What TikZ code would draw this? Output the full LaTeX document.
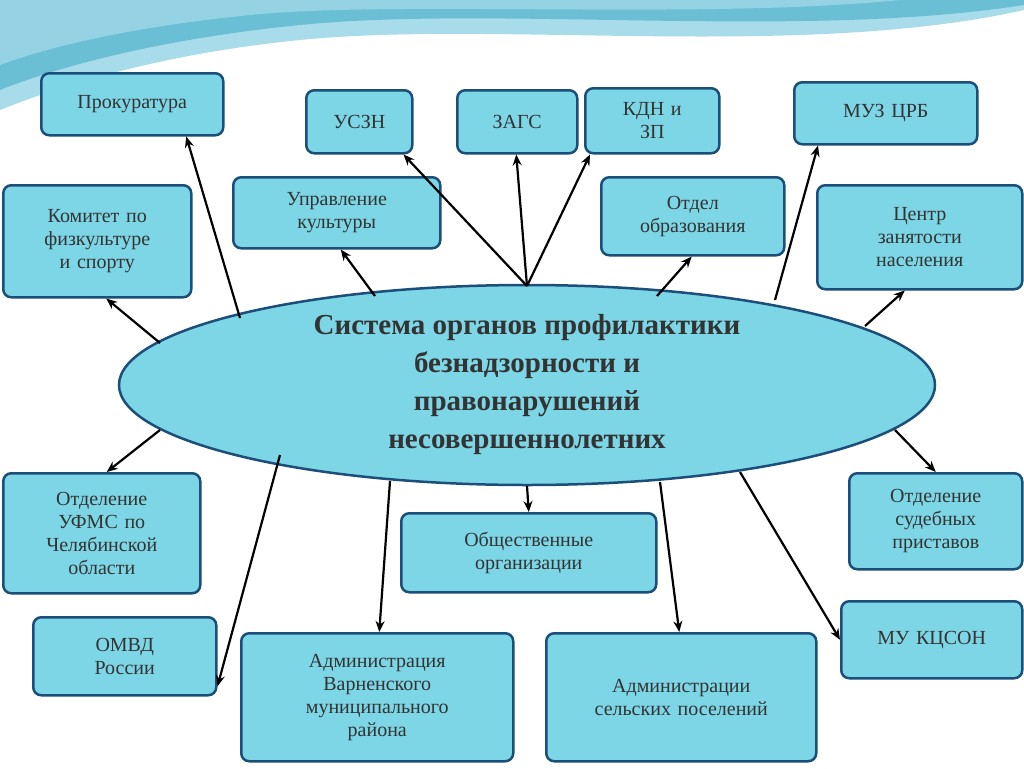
\documentclass[tikz,border=0pt]{standalone}
\usepackage{fontspec}
\setmainfont{Liberation Serif}
\usetikzlibrary{arrows.meta}
\definecolor{boxfill}{HTML}{7DD6E6}
\definecolor{boxline}{HTML}{1B4F7A}
\definecolor{txt}{HTML}{333333}
\definecolor{wave1}{HTML}{5BB8D0}
\definecolor{wave2}{HTML}{A8DCEB}
\begin{document}
\begin{tikzpicture}[x=1pt,y=-1pt,
  box/.style={draw=boxline,line width=2.5pt,fill=boxfill,rounded corners=8pt,anchor=north west,align=center,inner sep=0pt,text=txt,font=\fontsize{20}{23}\selectfont},
  arr/.style={-{Stealth[length=11pt,width=9pt]},line width=2.2pt,black}]
\useasboundingbox (0,0) rectangle (1024,768);
\fill[white] (0,0) rectangle (1024,768);
% waves
\fill[wave2] (0,0) -- (1024,0) -- (1024,10) .. controls (800,60) and (500,20) .. (300,40) .. controls (150,55) and (50,90) .. (0,110) -- cycle;
\fill[wave1,opacity=0.8] (0,0) -- (1024,0) -- (1024,5) .. controls (800,40) and (500,5) .. (300,25) .. controls (150,40) and (50,70) .. (0,90) -- cycle;
\fill[wave2,opacity=0.7] (0,0) -- (900,0) .. controls (700,20) and (400,0) .. (250,15) .. controls (120,28) and (40,50) .. (0,65) -- cycle;
% boxes
\newcommand\bx[6]{\node[box,minimum width=#4,minimum height=#5,text width=#4] (#1) at (#2,#3) {#6};}
\bx{prok}{40}{72}{182}{62}{Прокуратура\\[14pt]}
\bx{uszn}{305}{89}{106}{63}{УСЗН}
\bx{zags}{456}{89}{120}{63}{ЗАГС}
\bx{kdn}{584}{87}{134}{65}{КДН и\\ЗП}
\bx{muz}{793}{81}{183}{62}{МУЗ ЦРБ}
\bx{kom}{2}{184}{188}{112}{Комитет по\\физкультуре\\и спорту}
\bx{upr}{232}{176}{207}{71}{Управление\\культуры}
\bx{otd}{600}{176}{183}{78}{Отдел\\образования}
\bx{cz}{816}{184}{205}{104}{Центр\\занятости\\населения}
\bx{ufms}{2}{472}{197}{120}{Отделение\\УФМС по\\Челябинской\\области}
\bx{obsh}{400}{512}{255}{79}{Общественные\\организации}
\bx{sud}{848}{472}{173}{96}{Отделение\\судебных\\приставов}
\bx{omvd}{32}{616}{183}{78}{ОМВД\\России}
\bx{varn}{240}{632}{272}{128}{Администрация\\Варненского\\муниципального\\района}
\bx{sel}{545}{632}{270}{128}{Администрации\\сельских поселений}
\bx{kcson}{840}{600}{181}{77}{МУ КЦСОН\\[8pt]}
% ellipse
\draw[boxline,line width=2.5pt,fill=boxfill] (527,385) ellipse [x radius=408,y radius=100];
\node[align=center,text=txt,font=\bfseries\fontsize{29}{38}\selectfont] (e) at (527,385) {Система органов профилактики\\безнадзорности и\\правонарушений\\несовершеннолетних};
% start coordinates
\coordinate (s1) at (240,318);
\coordinate (s2) at (160,343);
\coordinate (s3) at (375,296);
\coordinate (s4) at (527,286);
\coordinate (s5) at (657,296);
\coordinate (s6) at (775,300);
\coordinate (s7) at (865,326);
\coordinate (s8) at (160,430);
\coordinate (s9) at (280,455);
\coordinate (s10) at (390,481);
\coordinate (s11) at (527,486);
\coordinate (s12) at (660,482);
\coordinate (s13) at (740,472);
\coordinate (s14) at (895,430);
\draw[arr] (s1) -- ([xshift=54pt]prok.south);
\draw[arr] (s2) -- ([xshift=9pt]kom.south);
\draw[arr] (s3) -- ([xshift=4pt]upr.south);
\draw[arr] (s4) -- ([xshift=-10pt]uszn.south east);
\draw[arr] (s4) -- ([xshift=-1pt]zags.south);
\draw[arr] (s4) -- ([xshift=6pt]kdn.south west);
\draw[arr] (s5) -- ([xshift=-1pt]otd.south);
\draw[arr] (s6) -- ([xshift=25pt]muz.south west);
\draw[arr] (s7) -- ([xshift=-15pt]cz.south);
\draw[arr] (s8) -- ([xshift=5pt]ufms.north);
\draw[arr] (s9) -- ([yshift=-30pt]omvd.east);
\draw[arr] (s10) -- ([xshift=2pt]varn.north);
\draw[arr] (s11) -- ([xshift=0pt]obsh.north);
\draw[arr] (s12) -- ([xshift=-2pt]sel.north);
\draw[arr] (s13) -- ([yshift=0pt]kcson.west);
\draw[arr] (s14) -- ([xshift=0pt]sud.north);
\end{tikzpicture}
\end{document}
